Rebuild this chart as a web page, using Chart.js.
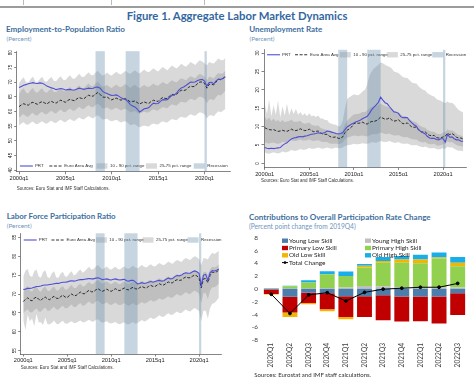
<!DOCTYPE html>
<html>
<head>
<meta charset="utf-8">
<script src="https://cdn.jsdelivr.net/npm/chart.js@4.4.0/dist/chart.umd.min.js"></script>
<style>
body { margin: 0; background: #fff; }
#page { position: relative; width: 474px; height: 389px; overflow: hidden; font-family: Lato, "Open Sans", sans-serif; }
.t { position: absolute; white-space: nowrap; line-height: 1; transform: translateY(-50%); }
.fig { color: #3467a0; font-weight: bold; font-size: 12px; left: 237px; transform: translate(-50%, -50%); }
.ttl { color: #3d6e9e; font-weight: bold; font-size: 9px; }
.sub { color: #6f95bd; font-size: 6.5px; }
.src { color: #333; font-family: "Liberation Sans", Arial, sans-serif; font-size: 4.5px; }
.src4 { color: #333; font-size: 6.5px; }
canvas { position: absolute; }
</style>
</head>
<body>
<div id="page">
  <div style="position:absolute;left:0;top:6px;width:474px;height:2px;background:#9c9c9c"></div>
  <div style="position:absolute;left:23px;top:0;width:1px;height:5px;background:#bbb"></div>
  <div style="position:absolute;left:111px;top:0;width:1px;height:5px;background:#bbb"></div>
  <div style="position:absolute;left:204px;top:0;width:1px;height:5px;background:#bbb"></div>

  <div class="t fig" style="top:16px" data-w="221">Figure 1. Aggregate Labor Market Dynamics</div>

  <div class="t ttl" style="left:6px;top:29.3px" data-w="119">Employment-to-Population Ratio</div>
  <div class="t sub" style="left:6.5px;top:38.5px" data-w="25">(Percent)</div>
  <div class="t ttl" style="left:249.3px;top:29.3px" data-w="73">Unemployment Rate</div>
  <div class="t sub" style="left:249.5px;top:38.5px" data-w="25">(Percent)</div>
  <div class="t ttl" style="left:6.7px;top:217.3px" data-w="109">Labor Force Participation Ratio</div>
  <div class="t sub" style="left:6.7px;top:226.3px" data-w="25">(Percent)</div>
  <div class="t ttl" style="left:249px;top:217.3px" data-w="182">Contributions to Overall Participation Rate Change</div>
  <div class="t sub" style="left:249px;top:226.3px" data-w="107">(Percent point change from 2019Q4)</div>

  <canvas id="c1" width="236" height="140" style="left:0;top:46px"></canvas>
  <canvas id="c2" width="238" height="130" style="left:236px;top:46px"></canvas>
  <canvas id="c3" width="236" height="140" style="left:0;top:228px"></canvas>
  <canvas id="c4" width="238" height="142" style="left:236px;top:228px"></canvas>

  <div class="t src" style="left:16.7px;top:189px" data-w="93">Sources: Euro Stat and IMF Staff Calculations.</div>
  <div class="t src" style="left:261px;top:180.7px" data-w="93">Sources: Euro Stat and IMF Staff Calculations.</div>
  <div class="t src" style="left:20.7px;top:368.3px" data-w="93">Sources: Euro Stat and IMF Staff Calculations.</div>
  <div class="t src4" style="left:254.3px;top:374.5px" data-w="117">Sources: Eurostat and IMF staff calculations.</div>
</div>

<script>
// quarterly series, 2000q1 .. 2022q2 (one row per year)
const xTickLabels = ["2000q1", "2005q1", "2010q1", "2015q1", "2020q1"];
const xTickPos = [0, 20, 40, 60, 80];
const recessions = [["2008q2", "2009q2"], ["2011q3", "2013q1"], ["2020q1", "2020q2"]];
const lineLegend = ["PRT", "Euro Area Avg", "10 - 90 pct. range", "25-75 pct. range", "Recession"];

// Employment-to-Population Ratio
const empTicks = [40, 45, 50, 55, 60, 65, 70, 75, 80];
const empPRT = [
  68.1, 68.5, 68.9, 69.1,  69.4, 69.6, 69.8, 69.6,  69.5, 69.7, 69.6, 69.2,  68.6, 68.3, 68.0, 67.8,
  67.4, 67.6, 67.8, 67.6,  67.3, 67.4, 67.5, 67.3,  67.3, 67.6, 67.9, 67.7,  67.5, 67.7, 67.9, 67.8,
  67.9, 68.2, 68.3, 67.9,  66.9, 66.3, 66.1, 65.7,  65.4, 65.5, 65.6, 65.2,  64.6, 64.3, 64.0, 63.3,
  62.3, 61.8, 61.5, 60.8,  59.8, 60.3, 60.9, 61.0,  61.3, 62.1, 62.8, 62.6,  62.7, 63.4, 64.0, 63.9,
  64.0, 64.8, 65.5, 65.6,  66.3, 67.3, 68.0, 68.3,  68.8, 69.4, 70.0, 69.9,  70.0, 70.5, 70.8, 70.9,
  70.3, 68.6, 69.8, 69.9,  69.4, 70.4, 71.0, 70.9,  71.3, 71.8];
const empAvg = [
  61.6, 62.2, 62.6, 62.3,  62.1, 62.8, 63.1, 62.7,  62.4, 63.0, 63.3, 62.9,  62.5, 63.1, 63.4, 63.0,
  62.8, 63.4, 63.8, 63.4,  63.1, 63.7, 64.1, 63.8,  63.6, 64.3, 64.7, 64.4,  64.3, 65.0, 65.5, 65.2,
  65.2, 65.9, 66.4, 65.8,  64.9, 64.8, 64.9, 64.3,  63.9, 64.3, 64.5, 64.1,  63.8, 64.2, 64.3, 63.8,
  63.2, 63.4, 63.5, 63.0,  62.5, 62.9, 63.2, 62.9,  62.7, 63.4, 63.8, 63.5,  63.4, 64.2, 64.7, 64.4,
  64.4, 65.3, 65.8, 65.6,  65.8, 66.7, 67.2, 67.1,  67.3, 68.1, 68.6, 68.4,  68.6, 69.5, 70.0, 70.0,
  69.6, 67.9, 69.2, 69.3,  69.0, 70.0, 70.9, 70.8,  71.2, 71.8];
const empP90 = [
  69.5, 70.8, 71.6, 69.9,  69.8, 71.0, 71.9, 70.2,  70.0, 71.0, 71.8, 70.3,  70.1, 71.1, 71.7, 70.4,
  70.3, 71.3, 72.0, 70.8,  70.6, 71.5, 72.3, 71.2,  71.1, 72.0, 72.8, 71.8,  71.7, 72.6, 73.3, 72.4,
  72.3, 73.2, 73.8, 72.9,  72.1, 72.6, 73.2, 72.5,  72.2, 72.9, 73.5, 72.8,  72.6, 73.2, 73.8, 73.1,
  72.8, 73.4, 74.0, 73.3,  72.9, 73.6, 74.3, 73.6,  73.3, 74.0, 74.7, 74.0,  73.6, 74.4, 75.1, 74.5,
  74.0, 74.9, 75.6, 75.0,  74.6, 75.4, 76.2, 75.6,  75.2, 76.0, 76.8, 76.3,  75.8, 76.7, 77.4, 77.0,
  76.4, 75.6, 76.8, 76.5,  76.3, 77.2, 78.0, 77.5,  77.4, 78.2];
const empP10 = [
  55.2, 55.9, 56.3, 55.5,  55.4, 56.1, 56.5, 55.8,  55.6, 56.2, 56.6, 56.0,  55.8, 56.4, 56.8, 56.2,
  56.0, 56.7, 57.1, 56.5,  56.3, 57.0, 57.4, 56.9,  56.7, 57.4, 57.9, 57.4,  57.2, 57.9, 58.4, 57.9,
  57.6, 58.3, 58.7, 58.1,  57.2, 57.3, 57.5, 56.9,  56.6, 56.9, 57.1, 56.6,  56.2, 56.5, 56.6, 56.0,
  55.3, 55.5, 55.6, 55.0,  54.5, 54.9, 55.2, 54.9,  54.8, 55.5, 55.9, 55.6,  55.5, 56.2, 56.6, 56.3,
  56.2, 56.9, 57.4, 57.1,  57.0, 57.7, 58.2, 57.9,  57.8, 58.5, 59.0, 58.7,  58.5, 59.2, 59.7, 59.4,
  59.0, 57.6, 58.6, 58.7,  58.3, 59.3, 60.0, 59.7,  60.2, 60.8];
const empP75 = [
  65.8, 67.2, 67.9, 66.4,  66.1, 67.3, 68.0, 66.6,  66.3, 67.3, 67.9, 66.6,  66.3, 67.2, 67.8, 66.6,
  66.5, 67.4, 68.0, 66.9,  66.8, 67.6, 68.3, 67.3,  67.3, 68.2, 68.9, 67.9,  67.9, 68.8, 69.5, 68.6,
  68.6, 69.5, 70.1, 69.2,  68.4, 68.6, 69.0, 68.3,  68.0, 68.6, 69.1, 68.5,  68.2, 68.8, 69.3, 68.6,
  68.0, 68.6, 69.1, 68.4,  67.9, 68.5, 69.0, 68.5,  68.3, 68.9, 69.5, 68.9,  68.7, 69.4, 70.0, 69.5,
  69.2, 70.0, 70.6, 70.1,  69.9, 70.7, 71.3, 70.9,  70.6, 71.4, 72.0, 71.6,  71.3, 72.2, 72.8, 72.4,
  71.8, 70.5, 71.8, 71.6,  71.2, 72.3, 73.1, 72.7,  73.0, 73.8];
const empP25 = [
  57.8, 58.6, 59.1, 58.3,  58.2, 59.0, 59.5, 58.7,  58.6, 59.4, 59.9, 59.1,  59.0, 59.7, 60.2, 59.5,
  59.3, 60.1, 60.6, 59.9,  59.7, 60.5, 61.0, 60.3,  60.2, 61.0, 61.6, 60.9,  60.8, 61.6, 62.2, 61.5,
  61.4, 62.2, 62.6, 61.9,  61.0, 61.1, 61.4, 60.8,  60.5, 60.9, 61.2, 60.7,  60.3, 60.7, 60.9, 60.3,
  59.6, 59.9, 60.1, 59.5,  59.1, 59.6, 59.9, 59.6,  59.6, 60.3, 60.7, 60.4,  60.3, 61.0, 61.5, 61.2,
  61.1, 61.9, 62.4, 62.1,  62.0, 62.8, 63.4, 63.1,  63.0, 63.8, 64.3, 64.0,  63.8, 64.6, 65.1, 64.8,
  64.3, 62.8, 64.0, 64.1,  63.8, 64.9, 65.7, 65.4,  66.2, 67.0];

// Unemployment Rate
const unTicks = [0, 5, 10, 15, 20, 25, 30];
const unPRT = [
  4.3, 4.1, 4.0, 4.1,  4.0, 4.1, 4.2, 4.3,  4.9, 5.3, 5.6, 6.2,  6.6, 6.9, 7.0, 7.2,
  7.3, 7.2, 7.4, 7.5,  7.7, 7.9, 8.0, 8.1,  8.3, 8.2, 8.2, 8.4,  8.8, 8.7, 8.5, 8.3,
  8.1, 8.0, 8.1, 8.3,  9.2, 9.9, 10.3, 10.7,  11.0, 11.3, 11.5, 11.8,  12.2, 12.5, 12.8, 13.6,
  14.6, 15.3, 15.9, 16.6,  18.0, 17.2, 16.5, 16.2,  15.4, 14.7, 14.0, 13.9,  13.6, 12.7, 12.4, 12.5,
  12.4, 11.6, 11.0, 10.5,  10.1, 9.2, 8.7, 8.3,  8.0, 7.3, 6.9, 6.8,  6.8, 6.5, 6.4, 6.7,
  6.7, 5.8, 7.9, 7.1,  7.2, 6.7, 6.4, 6.4,  6.0, 6.0];
const unAvg = [
  9.7, 9.4, 9.2, 9.1,  9.2, 8.9, 8.7, 8.8,  9.0, 8.8, 8.7, 9.0,  9.3, 9.0, 8.9, 9.1,
  9.4, 9.1, 8.9, 9.0,  9.3, 8.9, 8.6, 8.7,  8.8, 8.3, 8.0, 7.9,  7.9, 7.4, 7.1, 7.1,
  7.2, 6.8, 6.8, 7.2,  8.4, 9.0, 9.4, 9.9,  10.8, 11.0, 10.9, 11.0,  11.2, 10.8, 10.7, 11.1,
  11.4, 11.4, 11.6, 12.0,  12.6, 12.3, 12.0, 12.1,  12.4, 11.8, 11.5, 11.6,  11.9, 11.2, 10.8, 10.8,
  11.0, 10.4, 9.9, 9.8,  9.9, 9.1, 8.6, 8.5,  8.6, 7.9, 7.6, 7.5,  7.6, 7.0, 6.9, 6.9,
  7.2, 7.4, 8.2, 7.8,  8.1, 7.7, 7.1, 6.9,  6.9, 6.6];
const unP90 = [
  16.3, 13.5, 17.2, 12.8,  15.8, 13.2, 17.0, 12.5,  15.5, 13.0, 16.2, 13.1,  15.0, 13.4, 14.8, 13.2,
  14.0, 13.0, 13.6, 12.8,  13.6, 12.8, 13.0, 12.6,  13.0, 12.2, 12.2, 11.8,  11.8, 11.0, 10.8, 10.6,
  10.5, 10.0, 10.2, 11.5,  15.0, 17.5, 18.0, 18.4,  18.8, 18.6, 18.5, 19.0,  19.6, 20.0, 21.5, 23.8,
  25.0, 25.8, 26.3, 26.8,  27.5, 27.2, 26.8, 26.5,  26.3, 25.8, 25.0, 24.8,  24.6, 24.0, 23.5, 23.3,
  23.2, 22.6, 22.0, 21.8,  21.7, 21.0, 20.4, 20.0,  19.8, 19.1, 18.7, 18.4,  18.2, 17.5, 17.2, 17.0,
  16.6, 16.4, 16.8, 16.4,  16.5, 16.0, 15.2, 14.5,  14.2, 13.8];
const unP10 = [
  3.0, 2.7, 2.6, 2.8,  3.0, 2.8, 2.7, 2.9,  3.2, 3.0, 3.0, 3.3,  3.6, 3.4, 3.4, 3.6,
  3.9, 3.7, 3.7, 3.9,  4.2, 4.0, 4.0, 4.1,  4.3, 4.1, 4.0, 4.1,  4.3, 4.1, 4.0, 4.1,
  4.3, 4.1, 4.1, 4.3,  4.7, 4.9, 5.0, 5.1,  5.3, 5.2, 5.2, 5.3,  5.5, 5.3, 5.3, 5.5,
  5.8, 5.7, 5.6, 5.8,  6.1, 5.9, 5.8, 5.9,  6.1, 5.8, 5.6, 5.6,  5.8, 5.5, 5.3, 5.3,
  5.4, 5.1, 4.9, 4.9,  5.0, 4.7, 4.5, 4.4,  4.6, 4.3, 4.1, 4.1,  4.2, 3.9, 3.8, 3.9,
  4.1, 4.0, 4.5, 4.3,  4.4, 4.0, 3.6, 3.4,  3.4, 3.2];
const unP75 = [
  12.8, 11.8, 12.5, 11.5,  12.2, 11.4, 11.8, 11.2,  11.8, 11.2, 11.4, 11.5,  11.9, 11.3, 11.3, 11.4,
  11.6, 11.0, 10.8, 10.9,  11.1, 10.5, 10.3, 10.2,  10.3, 9.7, 9.4, 9.2,  9.1, 8.6, 8.4, 8.3,
  8.4, 8.1, 8.3, 9.0,  10.6, 11.6, 12.2, 12.8,  13.3, 13.4, 13.4, 13.7,  14.0, 14.0, 14.4, 15.0,
  15.3, 15.4, 15.6, 15.9,  16.3, 15.9, 15.6, 15.4,  15.2, 14.6, 14.2, 14.0,  13.9, 13.3, 12.9, 12.7,
  12.6, 12.0, 11.6, 11.3,  11.2, 10.5, 10.1, 9.8,  9.7, 9.1, 8.8, 8.6,  8.6, 8.1, 8.0, 8.0,
  8.3, 8.5, 9.3, 8.9,  9.0, 8.6, 8.1, 7.7,  7.6, 7.3];
const unP25 = [
  5.8, 5.5, 5.4, 5.6,  5.7, 5.4, 5.3, 5.5,  5.9, 5.7, 5.7, 6.0,  6.3, 6.1, 6.1, 6.3,
  6.5, 6.2, 6.2, 6.3,  6.5, 6.2, 6.1, 6.2,  6.3, 6.0, 5.8, 5.8,  5.8, 5.5, 5.3, 5.3,
  5.4, 5.2, 5.3, 5.7,  6.5, 7.0, 7.2, 7.4,  7.6, 7.5, 7.4, 7.5,  7.6, 7.4, 7.4, 7.6,
  7.9, 7.9, 7.9, 8.1,  8.4, 8.2, 8.0, 8.0,  8.1, 7.8, 7.6, 7.6,  7.7, 7.4, 7.2, 7.1,
  7.2, 6.8, 6.6, 6.5,  6.5, 6.1, 5.8, 5.7,  5.8, 5.4, 5.2, 5.2,  5.3, 4.9, 4.8, 4.9,
  5.2, 5.3, 6.0, 5.7,  5.8, 5.4, 5.0, 4.8,  4.7, 4.5];

// Labor Force Participation Ratio
const lfTicks = [55, 60, 65, 70, 75, 80, 85];
const lfPRT = [
  71.2, 71.3, 71.5, 71.5,  71.6, 71.8, 72.0, 72.0,  72.1, 72.3, 72.4, 72.4,  72.5, 72.6, 72.7, 72.8,
  72.8, 73.0, 73.1, 73.1,  73.2, 73.4, 73.5, 73.4,  73.5, 73.7, 73.8, 73.8,  73.9, 74.0, 74.1, 74.0,
  74.0, 74.2, 74.3, 74.1,  73.8, 73.9, 74.0, 73.8,  73.7, 73.9, 74.0, 73.8,  73.7, 73.8, 73.9, 73.5,
  73.4, 73.6, 73.6, 73.2,  72.7, 72.8, 73.0, 72.8,  72.9, 73.1, 73.3, 73.1,  73.3, 73.5, 73.6, 73.4,
  73.5, 73.9, 74.2, 74.0,  74.1, 74.6, 74.9, 74.8,  75.0, 75.4, 75.6, 75.5,  75.5, 75.9, 76.1, 75.9,
  75.5, 72.2, 75.0, 75.2,  73.6, 75.6, 76.2, 76.1,  76.3, 76.6];
const lfAvg = [
  68.0, 68.6, 69.0, 68.4,  68.2, 68.9, 69.2, 68.6,  68.3, 68.9, 69.2, 68.7,  68.5, 69.0, 69.4, 68.9,
  68.8, 69.3, 69.7, 69.2,  69.1, 69.6, 70.0, 69.6,  69.6, 70.1, 70.5, 70.1,  70.1, 70.6, 71.0, 70.6,
  70.6, 71.1, 71.4, 71.0,  70.7, 71.0, 71.3, 70.9,  70.7, 71.1, 71.4, 71.0,  70.9, 71.3, 71.6, 71.2,
  71.1, 71.5, 71.8, 71.4,  71.3, 71.7, 72.0, 71.7,  71.6, 72.0, 72.3, 72.0,  72.0, 72.4, 72.7, 72.4,
  72.4, 72.8, 73.2, 72.9,  73.0, 73.5, 73.8, 73.6,  73.7, 74.2, 74.5, 74.3,  74.3, 74.7, 75.0, 74.8,
  74.2, 71.6, 74.0, 74.1,  73.0, 74.9, 75.8, 75.7,  75.9, 76.3];
const lfP90 = [
  74.6, 76.2, 76.6, 74.8,  74.5, 76.0, 76.5, 74.6,  74.3, 75.8, 76.3, 74.5,  74.2, 75.5, 76.0, 74.4,
  74.3, 75.4, 75.9, 74.6,  74.6, 75.5, 76.0, 74.9,  75.2, 76.0, 76.5, 75.6,  76.0, 76.7, 77.2, 76.4,
  76.6, 77.3, 77.7, 77.0,  76.5, 76.9, 77.3, 76.7,  76.4, 76.9, 77.2, 76.6,  76.5, 77.0, 77.3, 76.8,
  76.7, 77.1, 77.5, 77.0,  76.8, 77.3, 77.7, 77.2,  77.0, 77.5, 77.9, 77.4,  77.3, 77.8, 78.2, 77.8,
  77.6, 78.1, 78.6, 78.2,  78.0, 78.6, 79.0, 78.7,  78.5, 79.1, 79.5, 79.2,  79.0, 79.6, 80.0, 79.7,
  79.2, 77.6, 79.5, 79.4,  79.1, 80.2, 80.9, 80.6,  81.0, 81.4];
const lfP10 = [
  63.0, 60.5, 64.5, 62.8,  63.5, 61.5, 64.8, 62.5,  62.5, 61.8, 63.8, 62.0,  62.0, 62.3, 63.0, 62.1,
  62.0, 62.5, 62.9, 62.2,  62.1, 62.5, 62.8, 62.3,  62.3, 62.7, 63.0, 62.5,  62.5, 62.9, 63.2, 62.7,
  62.7, 63.1, 63.3, 62.8,  62.4, 62.6, 62.8, 62.3,  62.2, 62.4, 62.6, 62.1,  62.0, 62.3, 62.5, 62.0,
  62.0, 62.3, 62.6, 62.1,  62.3, 62.7, 63.1, 62.7,  62.9, 63.4, 63.8, 63.4,  63.5, 64.0, 64.4, 64.0,
  64.0, 64.5, 64.9, 64.5,  64.5, 65.0, 65.4, 65.0,  65.0, 65.5, 65.9, 65.5,  65.4, 65.9, 66.3, 65.9,
  65.5, 62.8, 65.6, 65.6,  63.5, 66.3, 67.4, 67.6,  68.3, 69.0];
const lfP75 = [
  70.5, 71.6, 72.1, 70.9,  70.6, 71.6, 72.1, 70.9,  70.6, 71.5, 72.0, 70.9,  70.7, 71.5, 72.0, 71.0,
  70.9, 71.7, 72.1, 71.2,  71.2, 71.9, 72.4, 71.6,  71.6, 72.3, 72.7, 72.0,  72.1, 72.8, 73.2, 72.6,
  72.7, 73.3, 73.7, 73.1,  72.7, 73.1, 73.4, 72.9,  72.6, 73.0, 73.3, 72.8,  72.6, 73.0, 73.3, 72.8,
  72.6, 73.0, 73.3, 72.9,  72.8, 73.2, 73.5, 73.1,  73.0, 73.5, 73.8, 73.4,  73.4, 73.9, 74.2, 73.8,
  73.8, 74.3, 74.7, 74.3,  74.3, 74.9, 75.3, 74.9,  74.9, 75.5, 75.8, 75.5,  75.4, 76.0, 76.3, 76.0,
  75.6, 73.8, 75.8, 75.9,  75.0, 76.5, 77.2, 77.0,  77.3, 77.8];
const lfP25 = [
  64.9, 65.6, 66.0, 65.2,  65.1, 65.8, 66.2, 65.4,  65.3, 66.0, 66.4, 65.6,  65.6, 66.2, 66.6, 65.9,
  65.9, 66.5, 66.9, 66.2,  66.2, 66.8, 67.2, 66.5,  66.6, 67.2, 67.6, 66.9,  67.0, 67.6, 68.0, 67.4,
  67.4, 68.0, 68.3, 67.7,  67.2, 67.5, 67.8, 67.3,  67.1, 67.4, 67.7, 67.2,  67.0, 67.3, 67.6, 67.1,
  66.9, 67.3, 67.6, 67.1,  67.1, 67.5, 67.9, 67.5,  67.6, 68.0, 68.4, 68.0,  68.1, 68.5, 68.9, 68.5,
  68.6, 69.0, 69.4, 69.0,  69.1, 69.6, 70.0, 69.6,  69.6, 70.1, 70.5, 70.1,  70.0, 70.5, 70.9, 70.5,
  70.1, 67.5, 70.2, 70.3,  68.6, 70.9, 71.8, 71.8,  72.2, 72.8];

// Contributions to overall participation rate change (pp from 2019Q4)
const quarters = ["2020Q1", "2020Q2", "2020Q3", "2020Q4", "2021Q1", "2021Q2", "2021Q3", "2021Q4", "2022Q1", "2022Q2", "2022Q3"];
const youngLow  = [-0.1, -1.25, -0.6, -0.7, -1.15, -1.15, -1.0, -1.2, -1.2, -1.2, -0.7];
const youngHigh = [0.05, 0.05, 0.05, 0.1, 0.2, 0.45, 0.4, 0.3, 0.25, 0.2, 0.2];
const primLow   = [-0.7, -2.45, -1.6, -2.5, -3.25, -3.25, -3.9, -3.9, -3.85, -4.2, -3.4];
const primHigh  = [0.05, 0.35, 0.95, 2.2, 1.8, 2.9, 3.7, 3.8, 3.75, 4.55, 3.35];
const oldLow    = [-0.1, -0.7, -0.2, -0.3, -0.35, 0.25, 0.25, 0.5, 0.6, 0.15, 0.55];
const oldHigh   = [0.05, 0.1, 0.35, 0.45, 0.7, 0.3, 0.65, 0.55, 0.75, 0.8, 0.9];
const totalChg  = [-0.85, -3.85, -0.95, -0.6, -1.9, -0.55, -0.05, 0.1, 0.25, 0.25, 0.85];

const BLUE = "#4f4fd6";
const BAND = "rgba(128,128,128,0.3)";
const REC = "rgba(100,140,172,0.37)";
const legendFrac = [0.015, 0.153, 0.374, 0.606, 0.83];

function qIndex(q) {
  return (parseInt(q.slice(0, 4)) - 2000) * 4 + parseInt(q.slice(5)) - 1;
}

// legend inside the plot + recession shading under the two lines
const stataDeco = {
  id: "stataDeco",
  beforeDatasetsDraw(chart, args, o) {
    const { ctx, chartArea: a } = chart;
    const y = o.legendY === "top" ? a.top + o.legendOff : a.bottom - o.legendOff;
    ctx.save();
    ctx.font = '4.4px "Liberation Sans", Arial';
    ctx.textBaseline = "middle";
    lineLegend.forEach((lab, i) => {
      const x = a.left + legendFrac[i] * (a.right - a.left);
      if (i < 2) {
        ctx.strokeStyle = i == 0 ? BLUE : "#1a1a1a";
        ctx.lineWidth = i == 0 ? 1.1 : 0.9;
        ctx.setLineDash(i == 0 ? [] : [3, 1.6]);
        ctx.beginPath(); ctx.moveTo(x, y); ctx.lineTo(x + 13, y); ctx.stroke();
        ctx.setLineDash([]);
      } else {
        ctx.fillStyle = i == 4 ? REC : BAND;
        ctx.fillRect(x, y - 2.7, 11, 5.4);
      }
      ctx.fillStyle = "#333";
      ctx.fillText(lab, x + (i < 2 ? 15 : 13.5), y);
    });
    ctx.restore();
  },
  beforeDatasetDraw(chart, args) {
    if (args.index !== 1) return;
    const { ctx, chartArea: a, scales: { x } } = chart;
    ctx.save();
    ctx.fillStyle = REC;
    recessions.forEach(([s, e]) => {
      const x0 = x.getPixelForValue(qIndex(s)), x1 = x.getPixelForValue(qIndex(e));
      ctx.fillRect(x0, a.top, x1 - x0, a.bottom - a.top);
    });
    ctx.restore();
  }
};

function lineChart(id, s, yTicks, o) {
  const pts = arr => arr.map((v, i) => ({ x: i, y: v }));
  const band = (arr, fill) => ({ data: pts(arr), borderWidth: 0, borderColor: "rgba(0,0,0,0)", pointRadius: 0, fill: fill, backgroundColor: BAND });
  const axisGrid = { drawOnChartArea: false, tickLength: 2.5, color: "#333", lineWidth: 0.6 };
  new Chart(document.getElementById(id), {
    type: "line",
    data: {
      datasets: [
        { data: pts(s[0]), borderColor: BLUE, borderWidth: 1.1, pointRadius: 0, fill: false },
        { data: pts(s[1]), borderColor: "#1a1a1a", borderWidth: 0.9, borderDash: [3, 1.6], pointRadius: 0, fill: false },
        band(s[2], "+1"), band(s[3], false),
        band(s[4], "+1"), band(s[5], false)
      ]
    },
    options: {
      responsive: false,
      animation: false,
      devicePixelRatio: 1,
      layout: { padding: o.pad },
      plugins: {
        legend: { display: false },
        tooltip: { enabled: false },
        stataDeco: { legendY: o.legendY, legendOff: o.legendOff }
      },
      scales: {
        x: {
          type: "linear", min: o.xmin, max: o.xmax,
          afterBuildTicks: sc => { sc.ticks = xTickPos.map(v => ({ value: v })); },
          afterFit: sc => { sc.height = o.xh; },
          ticks: { callback: (v, i) => xTickLabels[i], autoSkip: false, maxRotation: 0, font: { size: 5.7 }, color: "#222", padding: 1 },
          grid: axisGrid,
          border: { color: "#333", width: 0.6 }
        },
        y: {
          min: yTicks[0] - o.padLo, max: yTicks[yTicks.length - 1] + o.padHi,
          afterBuildTicks: sc => { sc.ticks = yTicks.map(v => ({ value: v })); },
          afterFit: sc => { sc.width = o.yw; },
          ticks: { minRotation: 90, maxRotation: 90, crossAlign: "center", font: { size: 4.6 }, color: "#222", padding: 1 },
          grid: axisGrid,
          border: { color: "#333", width: 0.6 }
        }
      }
    },
    plugins: [stataDeco]
  });
}

Chart.defaults.font.family = '"Liberation Sans", Arial, sans-serif';

lineChart("c1", [empPRT, empAvg, empP75, empP25, empP90, empP10], empTicks,
  { pad: { top: 5.2, right: 6, left: 0, bottom: 0 }, yw: 16.7, xh: 14.2, xmin: -1, xmax: 91, padLo: 0.6, padHi: 0.5, legendY: "bottom", legendOff: 5.8 });
lineChart("c2", [unPRT, unAvg, unP75, unP25, unP90, unP10], unTicks,
  { pad: { top: 2.35, right: 7.3, left: 0, bottom: 0 }, yw: 28, xh: 8.6, xmin: -0.3, xmax: 90.6, padLo: 1.1, padHi: 0.9, legendY: "top", legendOff: 5 });
lineChart("c3", [lfPRT, lfAvg, lfP75, lfP25, lfP90, lfP10], lfTicks,
  { pad: { top: 5.3, right: 14.3, left: 0, bottom: 0 }, yw: 20.7, xh: 14, xmin: -1.18, xmax: 90.3, padLo: 0.87, padHi: 1.06, legendY: "top", legendOff: 6.7 });

// stacked bar legend in two columns inside the plot
const barLegend = {
  id: "barLegend",
  afterDatasetsDraw(chart) {
    const { ctx, chartArea: a } = chart;
    ctx.save();
    ctx.font = "6.4px Lato, sans-serif";
    ctx.textBaseline = "middle";
    chart.data.datasets.forEach((ds, i) => {
      const col = i < 6 ? i % 2 : 0, row = i < 6 ? Math.floor(i / 2) : 3;
      const x = a.left + (col ? 103 : 20), y = a.top + 3 + row * 7.3;
      if (ds.type === "line") {
        ctx.strokeStyle = "#000"; ctx.lineWidth = 1;
        ctx.beginPath(); ctx.moveTo(x, y); ctx.lineTo(x + 6, y); ctx.stroke();
        ctx.fillStyle = "#000";
        ctx.beginPath(); ctx.arc(x + 3, y, 1.3, 0, Math.PI * 2); ctx.fill();
      } else {
        ctx.fillStyle = ds.backgroundColor;
        ctx.fillRect(x, y - 2.2, 6, 4.4);
      }
      ctx.fillStyle = "#262626";
      ctx.fillText(ds.label, x + 7, y);
    });
    ctx.restore();
  }
};

new Chart(document.getElementById("c4"), {
  type: "bar",
  data: {
    labels: quarters,
    datasets: [
      { label: "Young Low Skill", data: youngLow, backgroundColor: "#4d7eab" },
      { label: "Young High Skill", data: youngHigh, backgroundColor: "#bfbfbf" },
      { label: "Primary Low Skill", data: primLow, backgroundColor: "#c00000" },
      { label: "Primary High Skill", data: primHigh, backgroundColor: "#92d050" },
      { label: "Old Low Skill", data: oldLow, backgroundColor: "#f2b600" },
      { label: "Old High Skill", data: oldHigh, backgroundColor: "#1aaee8" },
      { type: "line", label: "Total Change", data: totalChg, borderColor: "#000", backgroundColor: "#000",
        borderWidth: 1, pointRadius: 1.4, stack: "tot", order: -1 }
    ]
  },
  options: {
    responsive: false,
    animation: false,
    devicePixelRatio: 1,
    layout: { padding: { top: 9.7, right: 7, left: 0, bottom: 0 } },
    datasets: { bar: { categoryPercentage: 0.8, barPercentage: 1 } },
    plugins: { legend: { display: false }, tooltip: { enabled: false } },
    scales: {
      x: {
        stacked: true,
        afterFit: sc => { sc.height = 30; },
        grid: { display: false, drawTicks: false }, border: { display: false },
        ticks: { minRotation: 90, maxRotation: 90, font: { size: 6.6, family: "Lato, sans-serif" }, color: "#404040", padding: 3 }
      },
      y: {
        stacked: true, min: -8, max: 8,
        afterFit: sc => { sc.width = 26; },
        grid: { display: false, drawTicks: false }, border: { display: false },
        ticks: { stepSize: 2, font: { size: 6.5, family: "Lato, sans-serif" }, color: "#404040", padding: 4 }
      }
    }
  },
  plugins: [barLegend]
});

function fitTexts() {
  document.querySelectorAll("[data-w]").forEach(el => {
    const w = el.getBoundingClientRect().width;
    const fs = parseFloat(getComputedStyle(el).fontSize);
    if (w > 0) el.style.fontSize = (fs * parseFloat(el.dataset.w) / w) + "px";
  });
}
fitTexts();
</script>
</body>
</html>
